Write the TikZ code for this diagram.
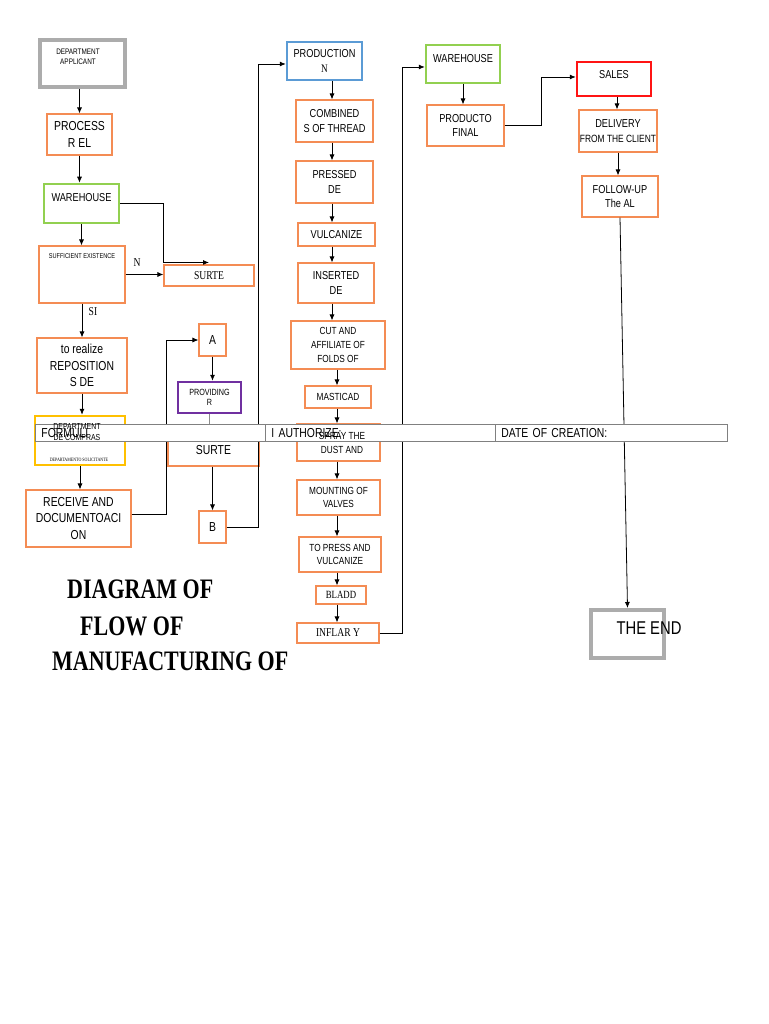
\documentclass[tikz,border=0pt]{standalone}
\usepackage{fontspec}
\usepackage{xcolor}
\usepackage{tikz}
\usetikzlibrary{arrows.meta,positioning}
\newfontfamily\boxsans[FakeStretch=0.8]{Liberation Sans}
\newfontfamily\boxserif[FakeStretch=0.8]{Liberation Serif}
\newfontfamily\titleserif[FakeStretch=0.78]{Liberation Serif}
\definecolor{boxorange}{RGB}{244,140,84}
\definecolor{boxgray}{RGB}{172,172,172}
\definecolor{boxgreen}{RGB}{146,208,80}
\definecolor{boxblue}{RGB}{91,155,213}
\definecolor{boxred}{RGB}{255,20,20}
\definecolor{boxpurple}{RGB}{112,48,160}
\definecolor{boxyellow}{RGB}{255,192,0}
\tikzset{
  flowarrow/.style={-{Latex[length=6pt,width=5pt]}, line width=0.8pt,
    draw=black},
  flowline/.style={line width=0.7pt, draw=black!45},
  flowbox/.style={draw=boxorange, line width=1.1pt, align=center,
    inner sep=1pt},
  grayframe/.style={flowbox, draw=boxgray, line width=3.5pt},
  greenframe/.style={flowbox, draw=boxgreen, line width=2.5pt},
  blueframe/.style={flowbox, draw=boxblue, line width=2.5pt},
  redframe/.style={flowbox, draw=boxred, line width=2.5pt},
  purpleframe/.style={flowbox, draw=boxpurple, line width=2.5pt},
  yellowframe/.style={flowbox, draw=boxyellow, line width=2.5pt},
  bigtext/.style={font=\boxsans\fontsize{13}{16.5}\selectfont},
  midtext/.style={font=\boxsans\fontsize{11.5}{14.8}\selectfont},
  smalltext/.style={font=\boxsans\fontsize{10.3}{13.8}\selectfont},
  tinytext/.style={font=\boxsans\fontsize{8}{9.8}\selectfont},
  seriftext/.style={font=\boxserif\fontsize{12}{14}\selectfont},
  formcell/.style={draw=black!50, line width=0.8pt, fill=white,
    minimum height=17pt, inner xsep=6pt, inner ysep=0pt, align=left,
    anchor=north west, font=\boxsans\fontsize{13}{15}\selectfont},
  titletext/.style={font=\titleserif\bfseries\fontsize{28.2}{32}\selectfont,
    anchor=base west, inner sep=0pt}
}

\begin{document}
\begin{tikzpicture}[x=1pt, y=-1pt]
  \path[use as bounding box, fill=white] (0,0) rectangle (768,1024);

  % requesting side
  \node[grayframe, minimum width=85pt, minimum height=47pt] (dept)
    at (82.5,63.5) {};
  \node[tinytext, align=center] (depttxt) at (78,57) {DEPARTMENT\\APPLICANT};
  \node[flowbox, bigtext, minimum width=65pt, minimum height=41pt] (process)
    at (79.5,134.5) {PROCESS\\R EL};
  \node[greenframe, midtext, minimum width=75pt, minimum height=39pt,
    text depth=13pt] (store) at (81.5,203.5) {WAREHOUSE};
  \node[flowbox, font=\boxsans\fontsize{7}{8}\selectfont, minimum width=86pt,
    minimum height=57pt, text depth=37pt] (enough) at (82,274.5)
    {SUFFICIENT EXISTENCE};
  \node[flowbox, seriftext, minimum width=90pt, minimum height=21pt] (supply)
    at (209,275.5) {SURTE};
  \node[seriftext] (nolabel) at (137,263) {N};
  \node[seriftext] (silabel) at (93,312) {SI};
  \node[flowbox, bigtext, minimum width=90pt, minimum height=55pt] (restock)
    at (82,365.5) {to realize\\REPOSITION\\S DE};
  \node[yellowframe, minimum width=90pt, minimum height=49pt] (purchase)
    at (80,440.5) {};
  \node[font=\boxserif\fontsize{5}{6}\selectfont] (purchasesub) at (79,460)
    {DEPARTAMENTO SOLICITANTE};
  \node[flowbox, bigtext, minimum width=105pt, minimum height=57pt] (receive)
    at (78.5,518.5) {RECEIVE AND\\DOCUMENTOACI\\ON};

  \node[flowbox, bigtext, minimum width=27pt, minimum height=32pt] (pointa)
    at (212.5,340) {A};
  \node[purpleframe, font=\boxsans\fontsize{9}{9.5}\selectfont,
    minimum width=63pt, minimum height=31pt] (provide) at (209.5,397.5)
    {PROVIDING\\R};
  \node[flowbox, bigtext, minimum width=91pt, minimum height=41pt,
    text height=18.5pt] (supplyb) at (213.5,445.5) {SURTE};
  \node[flowbox, bigtext, minimum width=27pt, minimum height=32pt] (pointb)
    at (212.5,527) {B};

  % production line
  \coordinate (prodline) at (332,0);
  \coordinate (prodlow) at (337,0);
  \node[blueframe, midtext, minimum width=75pt, minimum height=38pt] (produce)
    at (324.5,61) {PRODUCTION\\{\boxserif N}};
  \node[flowbox, midtext, minimum width=77pt, minimum height=42pt] (thread)
    at (334.5,121) {COMBINED\\S OF THREAD};
  \node[flowbox, midtext, minimum width=77pt, minimum height=42pt] (pressed)
    at (334.5,182) {PRESSED\\DE};
  \node[flowbox, midtext, minimum width=77pt, minimum height=23pt] (vulcan)
    at (336.5,234.5) {VULCANIZE};
  \node[flowbox, midtext, minimum width=76pt, minimum height=40pt] (insert)
    at (336,283) {INSERTED\\DE};
  \node[flowbox, smalltext, minimum width=94pt, minimum height=48pt] (cut)
    at (338,345) {CUT AND\\AFFILIATE OF\\FOLDS OF};
  \node[flowbox, smalltext, minimum width=66pt, minimum height=22pt] (mastic)
    at (338,397) {MASTICAD};
  \node[flowbox, minimum width=83pt, minimum height=37pt] (spray)
    at (338.5,442.5) {};
  \node[flowbox, smalltext, minimum width=83pt, minimum height=35pt] (valves)
    at (338.5,497.5) {MOUNTING OF\\VALVES};
  \node[flowbox, smalltext, minimum width=82pt, minimum height=35pt] (repress)
    at (340,554.5) {TO PRESS AND\\VULCANIZE};
  \node[flowbox, font=\boxserif\fontsize{11}{13}\selectfont, minimum width=50pt,
    minimum height=18pt] (bladd) at (341,595) {BLADD};
  \node[flowbox, seriftext, minimum width=82pt, minimum height=20pt] (inflate)
    at (338,633) {INFLAR Y};

  % selling side
  \node[greenframe, midtext, minimum width=74pt, minimum height=38pt,
    text depth=11pt] (store2) at (463,64) {WAREHOUSE};
  \node[flowbox, midtext, minimum width=77pt, minimum height=41pt] (final)
    at (465.5,125.5) {PRODUCTO\\FINAL};
  \node[redframe, midtext, minimum width=74pt, minimum height=34pt,
    text depth=10pt] (sales) at (614,79) {SALES};
  \node[flowbox, midtext, minimum width=76pt, minimum height=42pt] (deliver)
    at (618,131) {DELIVERY\\{\fontsize{10.5}{14.8}\selectfont FROM THE CLIENT}};
  \node[flowbox, midtext, minimum width=76pt, minimum height=41pt] (follow)
    at (620,196.5) {FOLLOW-UP\\The AL};
  \node[grayframe, line width=4pt, minimum width=73pt, minimum height=48pt]
    (theend) at (627.5,634) {};
  \node[font=\boxsans\fontsize{18.5}{20}\selectfont] (endtxt) at (649,628.5)
    {THE END};

  \draw[flowarrow] (dept.south -| process.north) -- (process.north);
  \draw[flowarrow] (process.south) -- (process.south |- store.north);
  \draw[flowarrow] (store.south) -- (store.south |- enough.north);
  \draw[flowarrow] (store.east) -| ([yshift=2pt]supply.north west)
    -- ([yshift=2pt]supply.north);
  \draw[flowarrow] (enough.east) -- (enough.east -| supply.west);
  \draw[flowarrow] (enough.south) -- (enough.south |- restock.north);
  \draw[flowarrow] (restock.south) -- (restock.south |- purchase.north);
  \draw[flowarrow] (purchase.south) -- (purchase.south |- receive.north);
  \draw[flowarrow] ([yshift=4pt]receive.east) -- ++(35,0) |- (pointa.west);
  \draw[flowarrow] (pointa.south) -- (pointa.south |- provide.north);
  \draw[flowline] (provide.south) -- (provide.south |- supplyb.north);
  \draw[flowarrow] (supplyb.south -| pointb.north) -- (pointb.north);
  \draw[flowarrow] (pointb.east) -- ++(32,0) |- ([yshift=-3pt]produce.west);

  \draw[flowarrow] (produce.south -| prodline) -- (thread.north -| prodline);
  \draw[flowarrow] (thread.south -| prodline) -- (pressed.north -| prodline);
  \draw[flowarrow] (pressed.south -| prodline) -- (vulcan.north -| prodline);
  \draw[flowarrow] (vulcan.south -| prodline) -- (insert.north -| prodline);
  \draw[flowarrow] (insert.south -| prodline) -- (cut.north -| prodline);
  \draw[flowarrow] (cut.south -| prodlow) -- (mastic.north -| prodlow);
  \draw[flowarrow] (mastic.south -| prodlow) -- (spray.north -| prodlow);
  \draw[flowarrow] (spray.south -| prodlow) -- (valves.north -| prodlow);
  \draw[flowarrow] (valves.south -| prodlow) -- (repress.north -| prodlow);
  \draw[flowarrow] (repress.south -| prodlow) -- (bladd.north -| prodlow);
  \draw[flowarrow] (bladd.south -| prodlow) -- (inflate.north -| prodlow);
  \draw[flowarrow] (inflate.east) -- ++(23,0) |- ([yshift=-3pt]store2.west);

  \draw[flowarrow] (store2.south) -- (store2.south |- final.north);
  \draw[flowarrow] (final.east) -- ++(37,0) |- ([yshift=2pt]sales.west);
  \draw[flowarrow] ([xshift=3pt]sales.south)
    -- ([xshift=3pt]sales.south |- deliver.north);
  \draw[flowarrow] (deliver.south) -- (deliver.south |- follow.north);
  \draw[flowarrow] (follow.south) -- (theend.north);

  % form strip over the chart
  \node[formcell, text width=218pt] (formfield) at (35,424) {FORMULI};
  \node[formcell, text width=218pt] (authfield) at (265,424) {I AUTHORIZE:};
  \node[formcell, text width=220pt] (datefield) at (495,424)
    {DATE OF CREATION:};
  \node[font=\boxsans\fontsize{8.7}{10.5}\selectfont, align=center]
    (purchasetxt) at (77,432) {DEPARTMENT\\DE COMPRAS};
  \node[smalltext, align=center] (spraytxt) at (342,443)
    {SPRAY THE\\DUST AND};

  \node[titletext] (title1) at (67,598) {DIAGRAM OF};
  \node[titletext] (title2) at (80,635) {FLOW OF};
  \node[titletext] (title3) at (52,670) {MANUFACTURING OF};
\end{tikzpicture}
\end{document}
